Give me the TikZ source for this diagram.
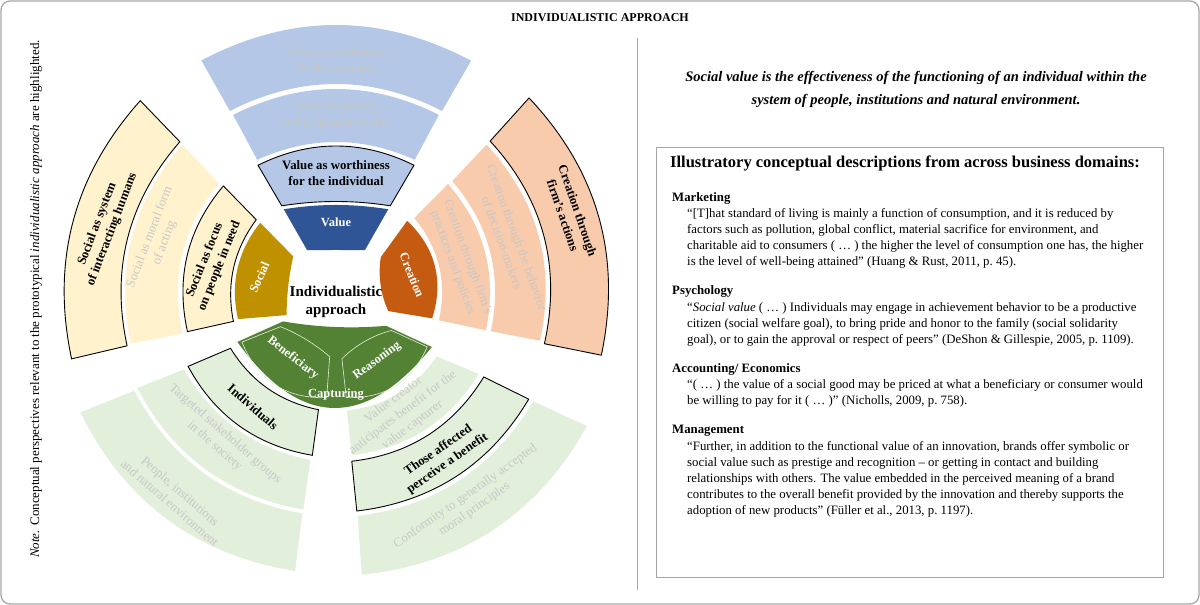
\documentclass[tikz,border=0pt]{standalone}
\usepackage{fontspec}
\setmainfont{Liberation Serif}
\usetikzlibrary{calc}

\definecolor{valdark}{HTML}{2F5597}
\definecolor{vallight}{HTML}{B4C7E7}
\definecolor{socdark}{HTML}{BF9000}
\definecolor{soclight}{HTML}{FFF2CC}
\definecolor{credark}{HTML}{C55A11}
\definecolor{crelight}{HTML}{F8CBAD}
\definecolor{capdark}{HTML}{548235}
\definecolor{caplight}{HTML}{E2EFDA}
\definecolor{framegrey}{HTML}{A6A6A6}

% one band of the wheel: style, inner corner angles, inner radius, inner mid radius,
% outer corner angles, outer radius, outer mid radius
\newcommand{\wedgeband}[9]{%
  \path[#1] (#2:#4) -- (#6:#8)
    .. controls ($1.3333*({(#6+#7)/2}:#9)-0.3333*(#7:#8)$)
       and ($1.3333*({(#6+#7)/2}:#9)-0.3333*(#6:#8)$) .. (#7:#8)
    -- (#3:#4)
    .. controls ($1.3333*({(#2+#3)/2}:#5)-0.3333*(#2:#4)$)
       and ($1.3333*({(#2+#3)/2}:#5)-0.3333*(#3:#4)$) .. (#2:#4) -- cycle;}

\begin{document}
\begin{tikzpicture}[x=1pt,y=1pt,
    hilite/.style={draw=black,line width=0.9pt},
    partbox/.style={draw=caplight,line width=0.6pt},
    hubtext/.style={font=\bfseries\fontsize{15}{17.5}\selectfont,align=center},
    darktext/.style={text=white,font=\bfseries\fontsize{12.5}{15}\selectfont,align=center},
    hitext/.style={font=\bfseries\fontsize{12.8}{15.8}\selectfont,align=center},
    greytext/.style={text=black!22,font=\fontsize{12.8}{15.8}\selectfont,align=center}]
  \useasboundingbox (0,0) rectangle (1200,605);
  \draw[framegrey,line width=1.3pt,rounded corners=9pt] (1,1) rectangle (1199,604);

  % the wheel
  \begin{scope}[shift={(336,314)}]
    % value
    \wedgeband{fill=valdark}{125.3}{54.7}{50}{41}{122.6}{57.4}{97}{86}
    \wedgeband{fill=vallight,hilite}{122.5}{57.5}{101}{89.5}{121.8}{58.2}{148}{145}
    \wedgeband{fill=vallight}{121}{59}{153}{149}{120.3}{59.7}{204}{202}
    \wedgeband{fill=vallight}{120.5}{59.5}{209}{207}{120.3}{59.6}{267}{266}
    % social
    \wedgeband{fill=socdark}{141}{206}{55}{48}{138}{196}{102}{101}
    \wedgeband{fill=soclight,hilite}{138.2}{196.5}{107}{105}{137}{195.3}{154}{153}
    \wedgeband{fill=soclight}{137.4}{195.5}{159}{158}{136.4}{194.4}{212}{211}
    \wedgeband{fill=soclight,hilite}{136.3}{194.7}{216}{215}{135.8}{194.4}{273}{272}
    % creation
    \wedgeband{fill=credark}{37}{-21}{56}{45}{44.6}{-15.9}{100}{102}
    \wedgeband{fill=crelight}{43}{-15.9}{107}{106}{43.7}{-14.7}{155}{154}
    \wedgeband{fill=crelight}{43.4}{-14.6}{160}{159}{44.2}{-13.7}{210}{210}
    \wedgeband{fill=crelight,hilite}{44.2}{-14.2}{215}{215}{45}{-13.6}{273}{273}
    % capturing
    \wedgeband{fill=capdark}{209.9}{325.2}{61}{36}{207.3}{329.7}{111}{117}
    \wedgeband{partbox}{212.7}{264.5}{66}{57}{208.5}{265}{107}{112}
    \wedgeband{partbox}{275}{324.5}{68}{58}{275.5}{328.5}{107}{112}
    \wedgeband{fill=caplight,hilite}{208.5}{261.6}{120}{119}{207}{261.8}{166}{166}
    \wedgeband{fill=caplight}{207.3}{261.4}{171}{170}{206}{261.5}{221}{221}
    \wedgeband{fill=caplight}{206.3}{261.4}{225}{225}{205.4}{261.7}{283}{284}
    \wedgeband{fill=caplight}{275.2}{327}{120}{120}{275.5}{329.8}{165}{165}
    \wedgeband{fill=caplight,hilite}{275.3}{329.8}{171}{171}{275.4}{330.7}{221}{221}
    \wedgeband{fill=caplight}{275.5}{330.8}{226}{226}{275.2}{331.7}{285}{286}

    \node[hubtext] (hub) at (0,-11) {Individualistic\\approach};
    \node[darktext] (value) at (90:69) {Value};
    \node[hitext] (valueind) at (90:117.5) {Value as worthiness\\for the individual};
    \node[greytext] (valueguide) at (90:176) {Value as guiding\\and judging principle};
    \node[greytext] (valuecommon) at (90:231.5) {Value as worthiness\\for the common};
    \node[darktext,rotate=66] (social) at (169.7:78) {Social};
    \node[hitext,rotate=68] (socneed) at (167.3:127) {Social as focus\\on people in need};
    \node[greytext,rotate=69] (socmoral) at (164.1:186) {Social as moral form\\of acting};
    \node[hitext,rotate=69] (socsystem) at (164.5:240) {Social as system\\of interacting humans};
    \node[darktext,rotate=-68] (creation) at (11.9:77.7) {Creation};
    \node[greytext,rotate=-70] (crepolicy) at (14:128) {Creation through firm's\\practices and policies};
    \node[greytext,rotate=-70] (crebehav) at (16.3:181) {Creation through the behavior\\of decision-makers};
    \node[hitext,rotate=-71] (creactions) at (18.4:247) {Creation through\\firm's actions};
    \node[darktext,rotate=-38] (benef) at (237.3:79.6) {Beneficiary};
    \node[darktext,rotate=36] (reason) at (300.4:81) {Reasoning};
    \node[darktext] (captur) at (270:104) {Capturing};
    \node[hitext,rotate=-41] (indiv) at (234.4:142.6) {Individuals};
    \node[greytext,rotate=-41] (stakeh) at (232.1:189) {Targeted stakeholder groups\\in the society};
    \node[greytext,rotate=-41] (people) at (232:261.4) {People, institutions\\and natural environment};
    \node[greytext,rotate=37] (anticip) at (298.8:139) {Value creator\\anticipates benefit for the\\value capturer};
    \node[hitext,rotate=35] (affected) at (302.8:197.5) {Those affected\\perceive a benefit};
    \node[greytext,rotate=35] (conform) at (302.3:250.8) {Conformity to generally accepted\\moral principles};
  \end{scope}

  \node[rotate=90,font=\fontsize{13}{15}\selectfont] (note) at (36,306)
    {\textit{Note.} Conceptual perspectives relevant to the prototypical \textit{individualistic approach} are highlighted.};

  % right half
  \node[font=\bfseries\fontsize{12}{14}\selectfont] (title) at (600,587) {INDIVIDUALISTIC APPROACH};
  \draw[framegrey,line width=0.8pt] (637,567) -- (637,15);
  \node[font=\bfseries\itshape\fontsize{14.5}{23}\selectfont,align=center] (definition) at (916,515.5)
    {Social value is the effectiveness of the functioning of an individual within the\\system of people, institutions and natural environment.};
  \node[draw=framegrey,line width=1pt,minimum width=507pt,minimum height=430pt,
    anchor=south west,inner sep=0pt] (quotebox) at (656,27) {};
  \node[anchor=west,font=\bfseries\fontsize{16.5}{18}\selectfont,inner sep=0pt] (heading) at (670,442)
    {Illustratory conceptual descriptions from across business domains:};
  \node[anchor=north west,align=left,inner sep=0pt,font=\fontsize{12.8}{16.2}\selectfont] (quotes) at (672,413) {%
    \textbf{Marketing}\\
    \hspace*{15pt}“[T]hat standard of living is mainly a function of consumption, and it is reduced by\\
    \hspace*{15pt}factors such as pollution, global conflict, material sacrifice for environment, and\\
    \hspace*{15pt}charitable aid to consumers ( … ) the higher the level of consumption one has, the higher\\
    \hspace*{15pt}is the level of well-being attained” (Huang \& Rust, 2011, p.~45).\\[12.8pt]
    \textbf{Psychology}\\
    \hspace*{15pt}“\textit{Social value} ( … ) Individuals may engage in achievement behavior to be a productive\\
    \hspace*{15pt}citizen (social welfare goal), to bring pride and honor to the family (social solidarity\\
    \hspace*{15pt}goal), or to gain the approval or respect of peers” (DeShon \& Gillespie, 2005, p.~1109).\\[12.8pt]
    \textbf{Accounting/ Economics}\\
    \hspace*{15pt}“( … ) the value of a social good may be priced at what a beneficiary or consumer would\\
    \hspace*{15pt}be willing to pay for it ( … )” (Nicholls, 2009, p.~758).\\[12.8pt]
    \textbf{Management}\\
    \hspace*{15pt}“Further, in addition to the functional value of an innovation, brands offer symbolic or\\
    \hspace*{15pt}social value such as prestige and recognition – or getting in contact and building\\
    \hspace*{15pt}relationships with others. The value embedded in the perceived meaning of a brand\\
    \hspace*{15pt}contributes to the overall benefit provided by the innovation and thereby supports the\\
    \hspace*{15pt}adoption of new products” (Füller et al., 2013, p.~1197).};
\end{tikzpicture}
\end{document}
